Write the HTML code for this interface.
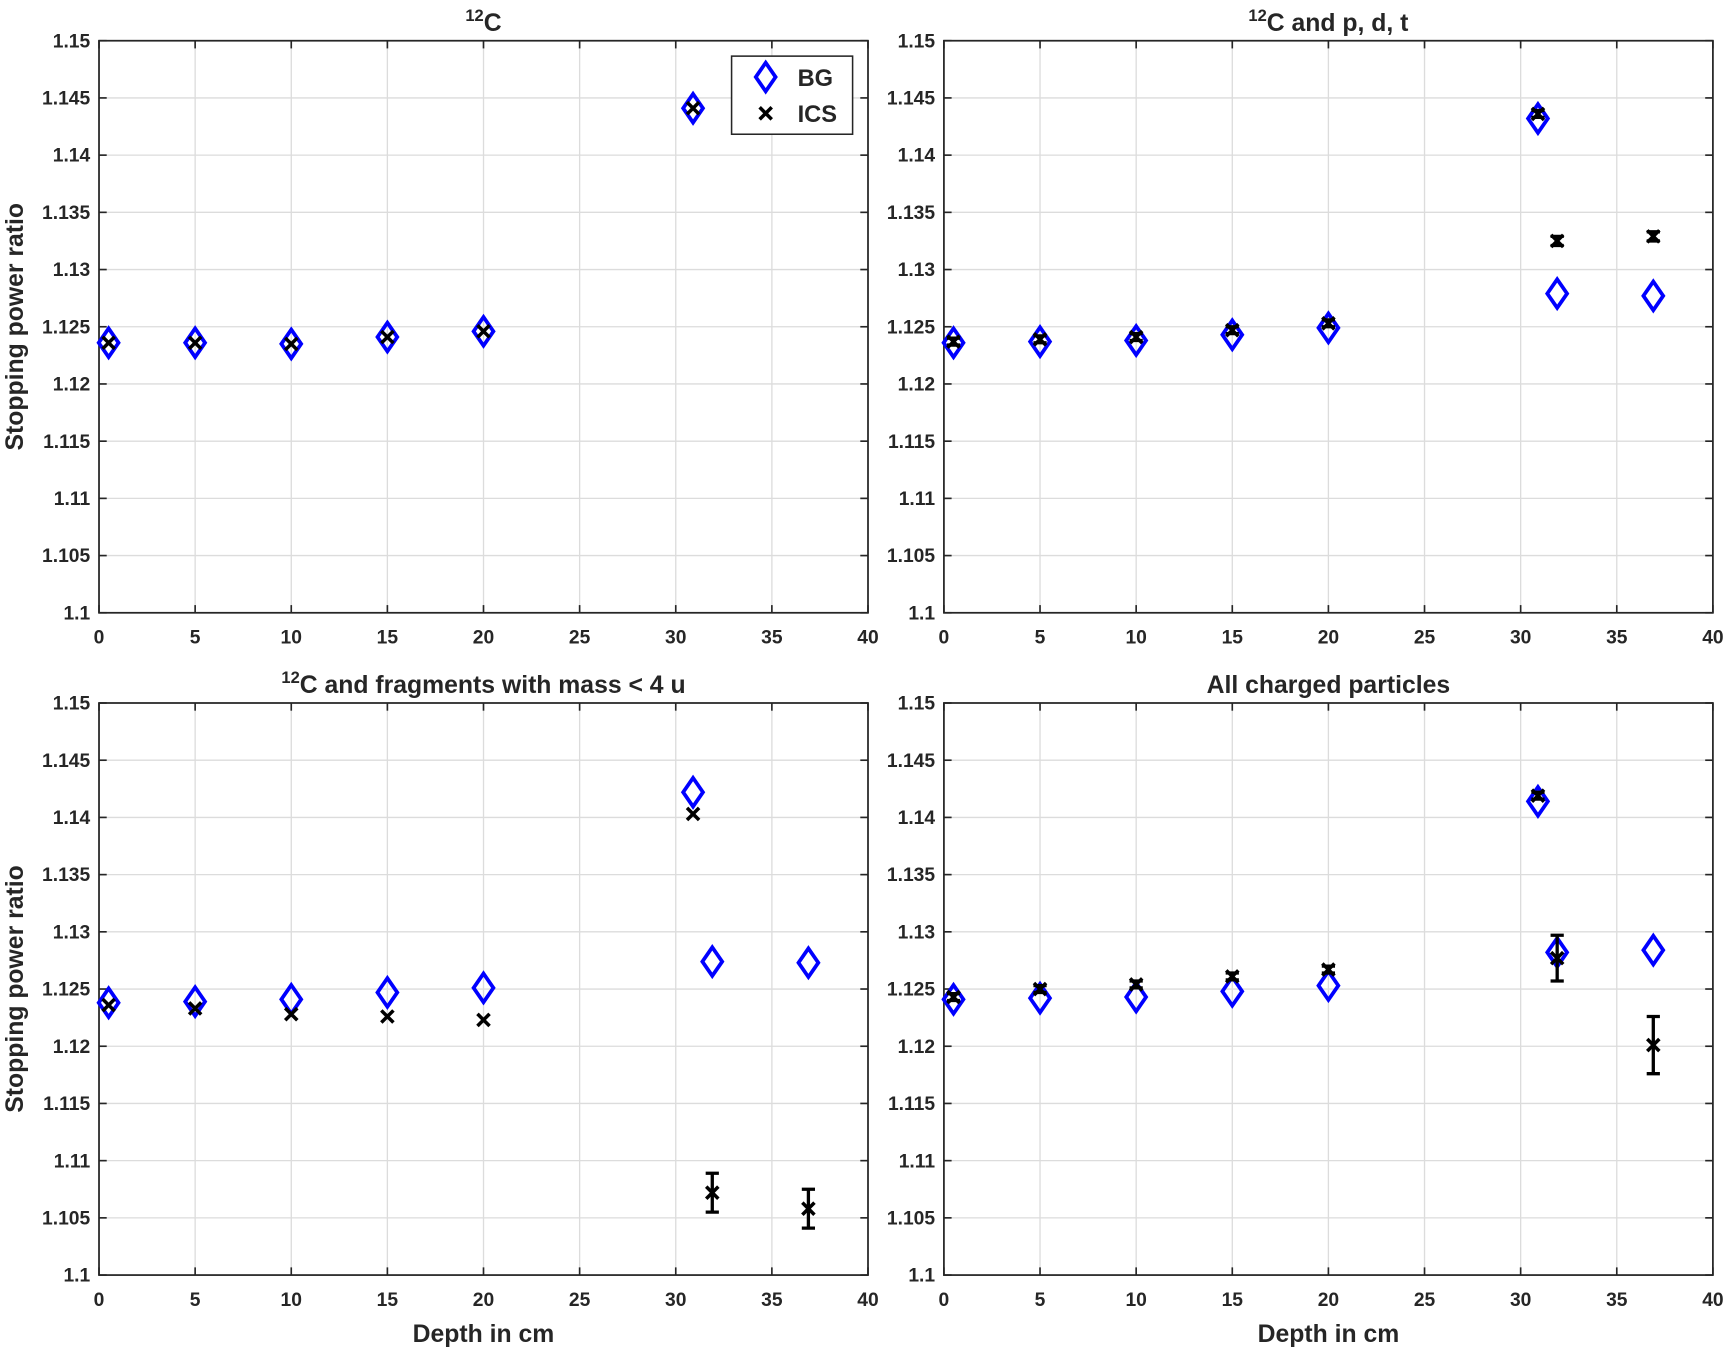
<!DOCTYPE html>
<html><head><meta charset="utf-8"><style>
html,body{margin:0;padding:0;background:#fff}
svg{display:block}
text{font-family:"Liberation Sans",Arial,sans-serif;font-weight:bold;fill:#262626}
</style></head><body>
<svg id="s" width="1725" height="1350" viewBox="0 0 1568 1227.1" xmlns="http://www.w3.org/2000/svg"></svg>
<script>
const S=document.getElementById('s');let h='';
const axes=[
 {l:90,t:37,title:'C',pre:'12',bg:[[0.5,1.1236],[5,1.1236],[10,1.1235],[15,1.1241],[20,1.1246],[30.9,1.1441]],
  ics:[[0.5,1.1236],[5,1.1236],[10,1.1235],[15,1.1241],[20,1.1246],[30.9,1.1441]]},
 {l:858,t:37,pre:'12',title:'C and p, d, t',bg:[[0.5,1.1236],[5,1.1237],[10,1.1238],[15,1.1243],[20,1.1249],[30.9,1.1432],[31.9,1.1279],[36.9,1.1277]],
  ics:[[0.5,1.1237,0.0003],[5,1.1239,0.0003],[10,1.1241,0.0003],[15,1.1247,0.0003],[20,1.1253,0.0003],[30.9,1.1436,0.0003],[31.9,1.1325,0.0004],[36.9,1.1329,0.0004]]},
 {l:90,t:639,pre:'12',title:'C and fragments with mass < 4 u',bg:[[0.5,1.1238],[5,1.1239],[10,1.1241],[15,1.1247],[20,1.1251],[30.9,1.1422],[31.9,1.1274],[36.9,1.1273]],
  ics:[[0.5,1.1236],[5,1.1233],[10,1.1228],[15,1.1226],[20,1.1223],[30.9,1.1403],[31.9,1.1072,0.0017],[36.9,1.1058,0.0017]]},
 {l:858,t:639,pre:'',title:'All charged particles',bg:[[0.5,1.1241],[5,1.1242],[10,1.1243],[15,1.1248],[20,1.1253],[30.9,1.1414],[31.9,1.1282],[36.9,1.1284]],
  ics:[[0.5,1.1243,0.0003],[5,1.125,0.0003],[10,1.1254,0.0003],[15,1.1261,0.0003],[20,1.1267,0.0003],[30.9,1.1419,0.0003],[31.9,1.1277,0.002],[36.9,1.1201,0.0025]]}
];
const W=699,H=520;
function diamond(x,y){return `<path d="M${x} ${y-13}L${x+9} ${y}L${x} ${y+13}L${x-9} ${y}Z" fill="none" stroke="#0000ff" stroke-width="3.4"/>`}
function cross(x,y){const d=5.5;return `<path d="M${x-d} ${y-d}L${x+d} ${y+d}M${x-d} ${y+d}L${x+d} ${y-d}" stroke="#000" stroke-width="3.2"/>`}
axes.forEach((a,i)=>{
 const X=v=>a.l+v/40*W, Y=v=>a.t+(1.15-v)/0.05*H;
 for(let k=0;k<=8;k++){const x=X(k*5);
  if(k>0&&k<8)h+=`<line x1="${x}" y1="${a.t}" x2="${x}" y2="${a.t+H}" stroke="#dcdcdc" stroke-width="1.2"/>`;
  h+=`<line x1="${x}" y1="${a.t+H}" x2="${x}" y2="${a.t+H-7}" stroke="#262626" stroke-width="1.5"/><line x1="${x}" y1="${a.t}" x2="${x}" y2="${a.t+7}" stroke="#262626" stroke-width="1.5"/>`;
  h+=`<text x="${x}" y="${a.t+H+28}" font-size="17.5" text-anchor="middle">${k*5}</text>`;}
 for(let k=0;k<=10;k++){const y=a.t+k*52,v=(1.15-k*0.005);
  if(k>0&&k<10)h+=`<line x1="${a.l}" y1="${y}" x2="${a.l+W}" y2="${y}" stroke="#dcdcdc" stroke-width="1.2"/>`;
  h+=`<line x1="${a.l}" y1="${y}" x2="${a.l+7}" y2="${y}" stroke="#262626" stroke-width="1.5"/><line x1="${a.l+W}" y1="${y}" x2="${a.l+W-7}" y2="${y}" stroke="#262626" stroke-width="1.5"/>`;
  let s=(+v.toFixed(3)).toString();
  h+=`<text x="${a.l-8}" y="${y+6}" font-size="17.5" text-anchor="end">${s}</text>`;}
 h+=`<rect x="${a.l}" y="${a.t}" width="${W}" height="${H}" fill="none" stroke="#262626" stroke-width="1.6"/>`;
 const cx=a.l+W/2;
 if(a.pre) h+=`<text x="${cx}" y="${a.t-9}" font-size="22.5" text-anchor="middle"><tspan font-size="15" dy="-9">${a.pre}</tspan><tspan dy="9">${a.title}</tspan></text>`;
 else h+=`<text x="${cx}" y="${a.t-9}" font-size="22.5" text-anchor="middle">${a.title}</text>`;
 a.bg.forEach(p=>{h+=diamond(X(p[0]),Y(p[1]));});
 a.ics.forEach(p=>{const x=X(p[0]),y=Y(p[1]);
  if(p[2]){const y1=Y(p[1]+p[2]),y2=Y(p[1]-p[2]);
   h+=`<path d="M${x} ${y1}V${y2}M${x-6} ${y1}H${x+6}M${x-6} ${y2}H${x+6}" stroke="#000" stroke-width="3"/>`;}
  h+=cross(x,y);});
 if(i%2==0) h+=`<text transform="translate(21 ${a.t+H/2}) rotate(-90)" font-size="22.5" text-anchor="middle">Stopping power ratio</text>`;
 if(i>=2) h+=`<text x="${cx}" y="${a.t+H+61}" font-size="22.5" text-anchor="middle">Depth in cm</text>`;
});
h+=`<rect x="665" y="51" width="110" height="71" fill="#fff" stroke="#262626" stroke-width="1.4"/>`;
h+=diamond(696,70)+`<text x="725" y="78" font-size="21.5">BG</text>`;
h+=cross(696,103)+`<text x="725" y="111" font-size="21.5">ICS</text>`;
S.innerHTML=h;
</script>
</body></html>
